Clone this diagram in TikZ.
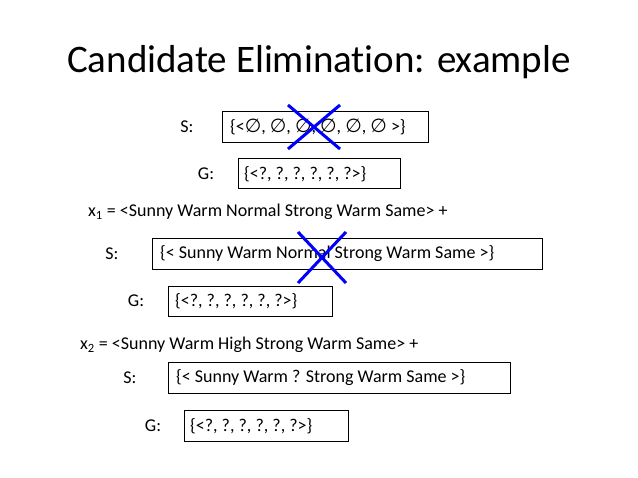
\documentclass[tikz,border=0pt]{standalone}
\usepackage{fontspec}
\setmainfont[RawFeature=-liga]{Carlito}
\newfontfamily\dvfont{DejaVu Sans}
\newcommand{\es}{{\dvfont\fontsize{19}{21}\selectfont ∅}}
\begin{document}
\begin{tikzpicture}[x=1pt,y=-1pt,
  lbl/.style={font=\fontsize{18}{21}\selectfont,inner sep=0pt},
  hbox/.style={draw,line width=1.2pt,anchor=north west,inner sep=0pt},
  cross/.style={draw=blue,line width=3pt}]
\useasboundingbox (0,0) rectangle (638,478);
\node[font=\fontsize{39}{44}\selectfont,inner sep=0pt] (title) at (319,62) {Candidate Elimination: example};
% row 1
\node[lbl] (s1l) at (187,127) {S:};
\node[hbox,minimum width=206pt,minimum height=31pt] (s1) at (222,111) {};
\node[lbl,anchor=west] (s1t) at (230,127) {\{<\es, \es, \es, \es, \es, \es\ >\}};
\coordinate (c1a) at (288,105); \coordinate (c1b) at (340,149);
\coordinate (c1c) at (340,105); \coordinate (c1d) at (288,149);
\draw[cross] (c1a) -- (c1b); \draw[cross] (c1c) -- (c1d);
\node[lbl] (g1l) at (206,174) {G:};
\node[hbox,minimum width=162pt,minimum height=30pt] (g1) at (238,158) {};
\node[lbl,anchor=west] (g1t) at (244,174) {\{<?, ?, ?, ?, ?, ?>\}};
\node[lbl,anchor=west] (x1) at (88,212) {x\textsubscript{1} = <Sunny Warm Normal Strong Warm Same> +};
% row 2
\node[lbl] (s2l) at (112,254) {S:};
\node[hbox,minimum width=390pt,minimum height=31pt] (s2) at (152,238) {};
\node[lbl,anchor=west] (s2t) at (160,254) {\{< Sunny Warm Normal Strong Warm Same >\}};
\coordinate (c2a) at (298,232); \coordinate (c2b) at (346,283);
\coordinate (c2c) at (346,232); \coordinate (c2d) at (298,283);
\draw[cross] (c2a) -- (c2b); \draw[cross] (c2c) -- (c2d);
\node[lbl] (g2l) at (136,301) {G:};
\node[hbox,minimum width=164pt,minimum height=30pt] (g2) at (168,286) {};
\node[lbl,anchor=west] (g2t) at (175,301) {\{<?, ?, ?, ?, ?, ?>\}};
\node[lbl,anchor=west] (x2) at (80,345) {x\textsubscript{2} = <Sunny Warm High Strong Warm Same> +};
% row 3
\node[lbl] (s3l) at (130,378) {S:};
\node[hbox,minimum width=342pt,minimum height=31pt] (s3) at (168,362) {};
\node[lbl,anchor=west] (s3t) at (176,378) {\{< Sunny Warm ? Strong Warm Same >\}};
\node[lbl] (g3l) at (153,426) {G:};
\node[hbox,minimum width=164pt,minimum height=31pt] (g3) at (184,410) {};
\node[lbl,anchor=west] (g3t) at (190,426) {\{<?, ?, ?, ?, ?, ?>\}};
\end{tikzpicture}
\end{document}
